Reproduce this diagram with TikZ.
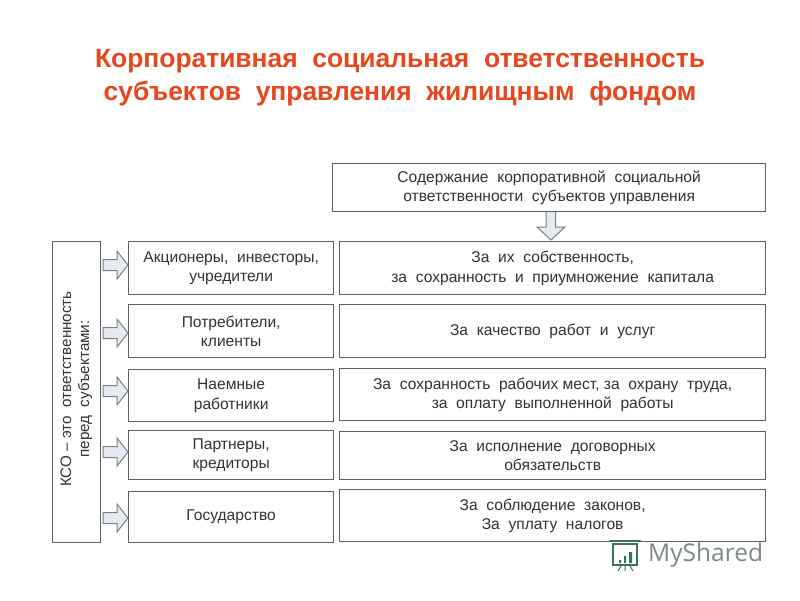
\documentclass[tikz,border=0pt]{standalone}
\usepackage{fontspec}
\setmainfont{Liberation Sans}
\newfontfamily\wmfont{Open Sans}
\definecolor{boxline}{HTML}{5F5F5F}
\definecolor{txt}{HTML}{333333}
\definecolor{titlec}{HTML}{E8471D}
\definecolor{arrowfill}{HTML}{E3EAF3}
\definecolor{arrowline}{HTML}{7F7F7F}
\definecolor{wmgray}{HTML}{7E8A86}
\definecolor{wmgreen}{HTML}{3F6F62}
\newcommand{\rarrow}[1]{\draw[flow] (103,#1-5.5) -- (117,#1-5.5) -- (117,#1-14) -- (128,#1) -- (117,#1+14) -- (117,#1+5.5) -- (103,#1+5.5) -- cycle;}
\tikzset{
  x=1pt,y=-1pt,
  boxnode/.style={draw=boxline,line width=1.3pt,fill=white,text=txt,align=center,font=\fontsize{15.6}{19.5}\selectfont,inner sep=0pt,anchor=north west},
  flow/.style={draw=arrowline,line width=1pt,fill=arrowfill,line join=miter},
  titlenode/.style={text=titlec,font=\fontsize{26.4}{33}\selectfont\bfseries,align=center}
}
\newcommand{\bx}[6]{\node[boxnode,minimum width={(#4-#2)*1pt},minimum height={(#5-#3)*1pt}] (#1) at (#2,#3) {#6};}
\begin{document}
\begin{tikzpicture}
\useasboundingbox (0,0) rectangle (800,600);
\fill[white] (0,0) rectangle (800,600);
\node[titlenode] (title) at (400,78) {Корпоративная~~социальная~~ответственность\\субъектов~~управления~~жилищным~~фондом};
\rarrow{265}\rarrow{333}\rarrow{391}\rarrow{452}\rarrow{518}
\draw[flow] (546,211) -- (555.5,211) -- (555.5,227) -- (565,227) -- (551,240) -- (537,227) -- (546,227) -- cycle;
\bx{head}{332}{163}{765}{211}{Содержание~~корпоративной~~социальной\\ответственности~~субъектов управления}
\bx{left}{52}{241}{100}{542}{}
\node[rotate=90,text=txt,align=center,font=\fontsize{15.2}{18}\selectfont] (leftt) at (76.5,389) {КСО – это~~ответственность\\перед~~субъектами:};
\bx{m1}{128}{241}{333}{294}{Акционеры,~~инвесторы,\\учредители}
\bx{m2}{128}{304}{333}{357}{Потребители,\\клиенты}
\bx{m3}{128}{369}{333}{421}{Наемные\\работники}
\bx{m4}{128}{430}{333}{479}{Партнеры,\\кредиторы}
\bx{m5}{128}{491}{333}{542}{Государство}
\bx{r1}{339}{241}{765}{294}{За~~их~~собственность,\\за~~сохранность~~и~~приумножение~~капитала}
\bx{r2}{339}{304}{765}{357}{За~~качество~~работ~~и~~услуг}
\bx{r3}{339}{368}{765}{420}{За~~сохранность~~рабочих мест, за~~охрану~~труда,\\за~~оплату~~выполненной~~работы}
\bx{r4}{339}{431}{765}{479}{За~~исполнение~~договорных\\обязательств}
\bx{r5}{339}{489}{765}{541}{За~~соблюдение~~законов,\\За~~уплату~~налогов}
% watermark
\draw[wmgreen,line width=1.3pt,fill=white] (613,544) rectangle (637,565);
\draw[wmgreen,line width=2pt,line cap=round] (610,541) -- (640,541);
\fill[wmgreen] (619,560) rectangle (621,563) (624,556) rectangle (626,563) (629,552) rectangle (632,563);
\draw[wmgreen,line width=1pt] (621,566) -- (618,571) (625,566) -- (625,571) (630,566) -- (633,571);
\node[text=wmgray,font=\wmfont\fontsize{24.5}{26}\selectfont,anchor=west,inner sep=0pt] (wm) at (648,555) {MyShared};
\end{tikzpicture}
\end{document}
